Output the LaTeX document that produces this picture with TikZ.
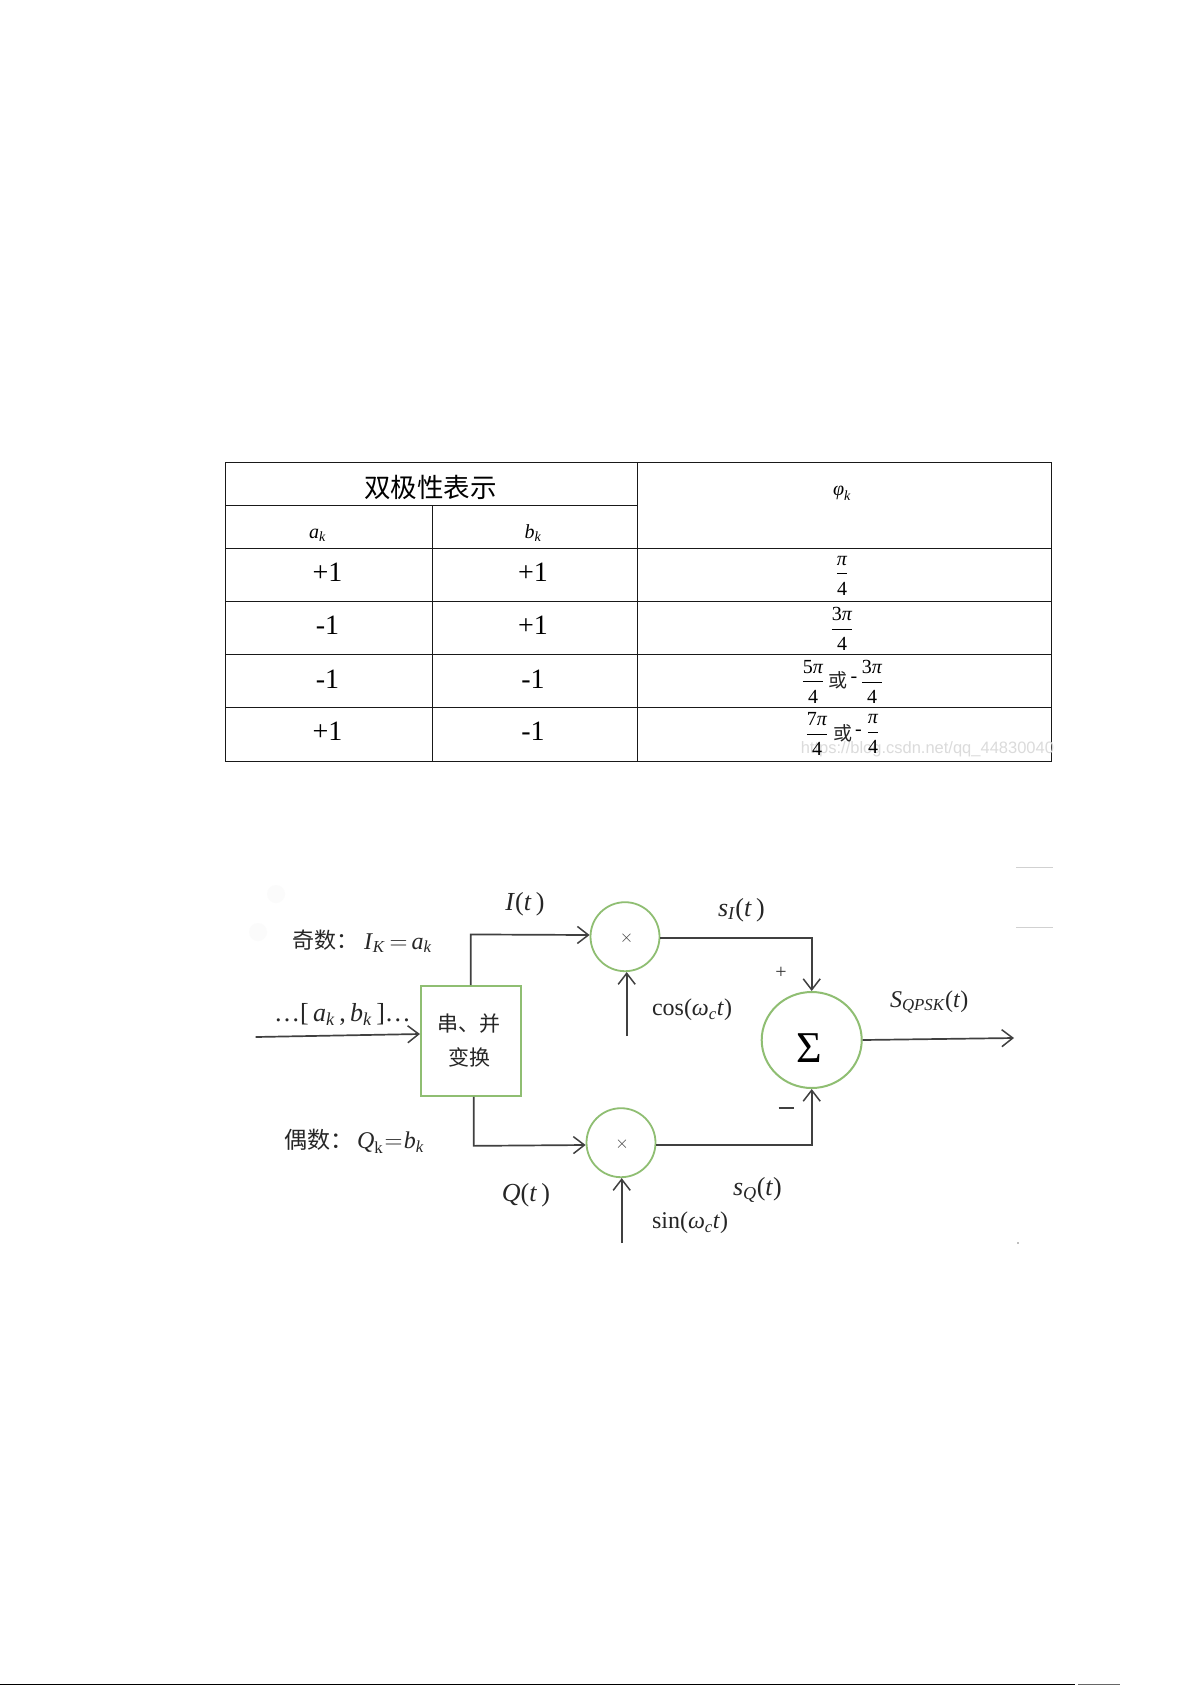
\documentclass[tikz,border=0pt]{standalone}
\usepackage{amsmath}
\usepackage{fontspec}
\setmainfont{Liberation Serif}
\newfontfamily\cjk{Noto Sans CJK SC}
\newfontfamily\wmfont{Liberation Sans}
\usetikzlibrary{arrows.meta,shapes.geometric}
\newcommand\mi[1]{\textit{#1}}
\newcommand\fs[1]{\fontsize{#1}{#1}\selectfont}
\newcommand\fr[2]{$\genfrac{}{}{0.9pt}{0}{\rule[-4pt]{0pt}{4pt}\text{#1}}{\rule{0pt}{18pt}\text{#2}}$}
\definecolor{grn}{HTML}{8FBE72}
\definecolor{wire}{HTML}{404040}
\tikzset{
  tline/.style={draw=black!90,line width=0.9pt},
  wireline/.style={draw=wire,line width=1.7pt},
  arr/.style={wireline,-{Straight Barb[length=11pt,width=17pt,line width=1.5pt]}},
  greenbox/.style={draw=grn,line width=1.7pt,minimum width=100pt,minimum height=110pt,inner sep=0pt},
  mulc/.style={circle,draw=grn,line width=1.8pt,minimum size=69pt,inner sep=0pt},
  sumc/.style={ellipse,draw=grn,line width=2pt,minimum width=100pt,minimum height=96pt,inner sep=0pt},
  txt/.style={inner sep=0pt,outer sep=0pt,text=black},
  big/.style={txt,font=\fs{28}},
  frc/.style={txt,font=\fs{20}},
  cjkf/.style={txt,font=\cjk\fs{19},text=black!85},
  lab/.style={txt,font=\fs{26},text=black!85},
}
\begin{document}
\begin{tikzpicture}[x=1pt,y=-1pt]
\useasboundingbox (0,0) rectangle (1192,1685);
\fill[white] (0,0) rectangle (1192,1685);
% table
\draw[tline] (225.5,462) rectangle (1051,761);
\draw[tline] (225.5,505.5) -- (637.5,505.5);
\draw[tline] (225.5,548.5) -- (1051,548.5);
\draw[tline] (225.5,601.5) -- (1051,601.5);
\draw[tline] (225.5,654) -- (1051,654);
\draw[tline] (225.5,707) -- (1051,707);
\draw[tline] (432,505.5) -- (432,761);
\draw[tline] (637.5,462) -- (637.5,761);
\node[txt,font=\wmfont\fs{16.5},text=black!14,anchor=east] (wm) at (1054,749) {https://blog.csdn.net/qq\_44830040};
\node[txt,font=\cjk\fs{26.5}] (thead) at (430.5,487) {双极性表示};
\node[txt,font=\fs{20}] (tphi) at (842,493) {$\text{\mi{φ}}_{\text{\mi{k}}}$};
\node[txt,font=\fs{20}] (tak) at (317.5,535) {$\text{\mi{a}}_{\text{\mi{k}}}$};
\node[txt,font=\fs{20}] (tbk) at (533,533) {$\text{\mi{b}}_{\text{\mi{k}}}$};
\node[big] (a1) at (327.5,572) {+1};
\node[big] (b1) at (533,572) {+1};
\node[big] (a2) at (327.5,625.5) {-1};
\node[big] (b2) at (533,625.5) {+1};
\node[big] (a3) at (327.5,679) {-1};
\node[big] (b3) at (533,679) {-1};
\node[big] (a4) at (327.5,731.5) {+1};
\node[big] (b4) at (533,731.5) {-1};
\node[frc] (p1) at (842,575.5) {\fr{\mi{π}}{4}};
\node[frc] (p2) at (842,629) {\fr{3\mi{π}}{4}};
\node[frc] (p3a) at (813,681.5) {\fr{5\mi{π}}{4}};
\node[cjkf] (p3b) at (838,680) {或};
\node[frc] (p3c) at (854,680) {-};
\node[frc] (p3d) at (872,681.5) {\fr{3\mi{π}}{4}};
\node[frc] (p4a) at (817,734) {\fr{7\mi{π}}{4}};
\node[cjkf] (p4b) at (843,733) {或};
\node[frc] (p4c) at (858.5,733) {-};
\node[frc] (p4d) at (873,734) {\fr{\mi{π}}{4}};
% diagram nodes
\node[greenbox] (conv) at (470.8,1041) {};
\node[cjkf,font=\cjk\fs{21}] (conv1) at (469,1024) {串、并};
\node[cjkf,font=\cjk\fs{21}] (conv2) at (469,1057) {变换};
\node[mulc] (mt) at (625,936.7) {};
\node[mulc] (mb) at (621,1142.7) {};
\node[sumc] (sum) at (811.7,1040) {};
\node[txt,font=\fs{19},text=black!75] (xt) at (626.7,938) {$\times$};
\node[txt,font=\fs{19},text=black!75] (xb) at (622,1144) {$\times$};
\node[txt,font=\fs{44}] (sg) at (809,1048) {Σ};
\coordinate (inA) at (255.7,1037);
\coordinate (cosA) at (626.7,1036);
\coordinate (sinA) at (621.7,1243);
\coordinate (outB) at (1014,1038);
\draw[arr] (inA) -- (conv.west |- 0,1034);
\draw[arr] (conv.north) -- ++(0,-50.7) -- (mt.west |- 0,935);
\draw[arr] ([xshift=3pt]conv.south) -- ++(0,49) -- (mb.west |- 0,1145);
\draw[arr] (cosA) -- (mt.south -| cosA);
\draw[arr] (sinA) -- (mb.south -| sinA);
\draw[arr] (mt.east |- 0,937.7) -- (sum.north |- 0,937.7) -- (sum.north);
\draw[arr] (mb.east |- 0,1145.3) -- (sum.south |- 0,1145.3) -- (sum.south);
\draw[arr] (sum.east) -- (outB);
% labels
\node[lab] (lI) at (525,904) {\mi{I}(\mi{t}\,)};
\node[lab] (lQ) at (526,1195) {\mi{Q}(\mi{t}\,)};
\node[cjkf,font=\cjk\fs{22},anchor=west] (lodd) at (292,940) {奇数：};
\node[lab,font=\fs{24},anchor=west] (lik) at (364,943) {$\text{\mi{I}}_{\text{\mi{K}}}\,{=}\,\text{\mi{a}}_{\text{\mi{k}}}$};
\node[cjkf,font=\cjk\fs{23},anchor=west] (leven) at (284,1140) {偶数：};
\node[lab,font=\fs{24},anchor=west] (lqk) at (357,1143) {$\text{\mi{Q}}_{\text{k}}\mkern1mu{=}\mkern1mu\text{\mi{b}}_{\text{\mi{k}}}$};
\node[lab] (lseq) at (342.5,1014) {…[\,$\text{\mi{a}}_{\text{\mi{k}}}$\,,\,$\text{\mi{b}}_{\text{\mi{k}}}$\,]…};
\node[lab,anchor=west,font=\fs{24}] (lcos) at (652,1010) {cos($\text{\mi{ω}}_{\text{\mi{c}}}$\mi{t})};
\node[lab,anchor=west,font=\fs{24}] (lsin) at (652,1223) {sin($\text{\mi{ω}}_{\text{\mi{c}}}$\mi{t})};
\node[lab,anchor=west] (lsi) at (718,910) {$\text{\mi{s}}_{\text{\mi{I}}}$(\mi{t}\,)};
\node[lab,anchor=west] (lsq) at (733,1190) {$\text{\mi{s}}_{\text{\mi{Q}}}$(\mi{t})};
\node[lab,anchor=west,font=\fs{24}] (lsqpsk) at (890,1002) {$\text{\mi{S}}_{\text{\mi{QPSK}}}$(\mi{t})};
\node[txt,font=\fs{20},text=black!80] (lplus) at (781,973) {+};
\draw[wire,line width=1.6pt] (778.5,1107.7) -- (794,1107.7);
% faint page residue
\draw[black!18,line width=.7pt] (1016,867.3) -- (1053,867.3);
\draw[black!18,line width=.7pt] (1016,927.3) -- (1053,927.3);
\fill[black!25] (1017,1242) rectangle (1019,1244);
\fill[black!1.5] (276,894) circle (9);
\fill[black!1.5] (258,932) circle (9);
\draw[black,line width=1.2pt] (0,1684.4) -- (1075,1684.4);
\fill[black!60] (1078,1683.6) rectangle (1120,1685);
\end{tikzpicture}
\end{document}
